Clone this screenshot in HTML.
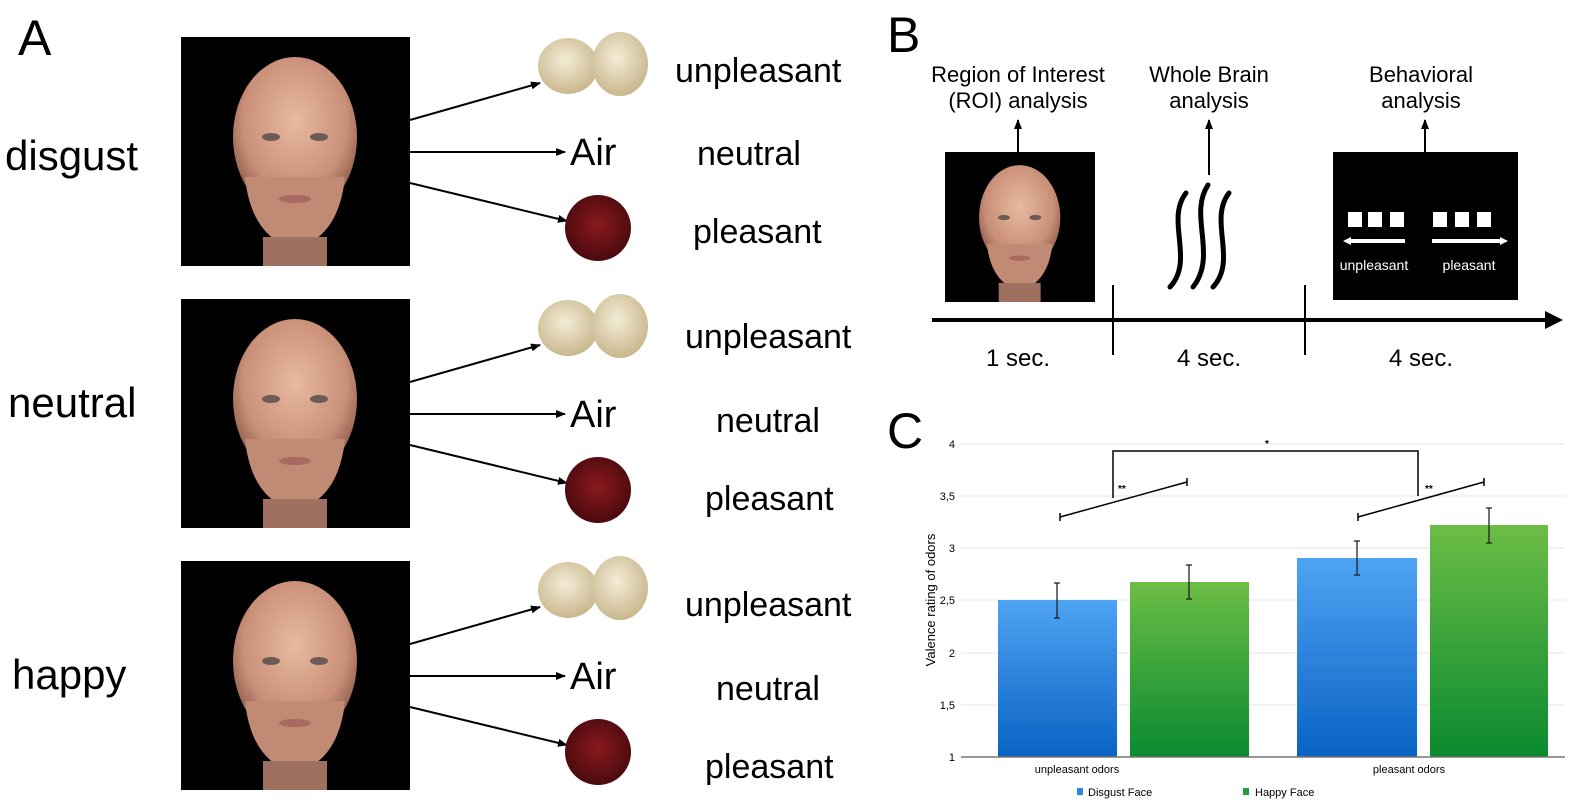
<!DOCTYPE html>
<html><head><meta charset="utf-8"><style>
html,body{margin:0;padding:0;background:#fff;}
svg{display:block;font-family:"Liberation Sans",Arial,sans-serif;}
</style></head><body>
<svg width="1575" height="807" viewBox="0 0 1575 807" xmlns="http://www.w3.org/2000/svg">
<defs>
<marker id="ah" markerWidth="10" markerHeight="8" refX="9" refY="4" orient="auto" markerUnits="userSpaceOnUse"><path d="M0,0 L10,4 L0,8 z" fill="#000"/></marker>
<radialGradient id="skin" cx="50%" cy="40%" r="60%"><stop offset="0" stop-color="#e8b9a0"/><stop offset="0.7" stop-color="#c98f78"/><stop offset="1" stop-color="#8a5a48"/></radialGradient>
<radialGradient id="garlic" cx="45%" cy="40%" r="60%"><stop offset="0" stop-color="#f3ecd6"/><stop offset="1" stop-color="#c9b88e"/></radialGradient>
<radialGradient id="rose" cx="50%" cy="45%" r="55%"><stop offset="0" stop-color="#8a1a1e"/><stop offset="1" stop-color="#4a0a0e"/></radialGradient>
<linearGradient id="blue" x1="0" y1="0" x2="0" y2="1"><stop offset="0" stop-color="#4fa3f3"/><stop offset="1" stop-color="#0a63c4"/></linearGradient>
<linearGradient id="green" x1="0" y1="0" x2="0" y2="1"><stop offset="0" stop-color="#6cbd45"/><stop offset="1" stop-color="#0a8a30"/></linearGradient>
<g id="face">
<rect x="0" y="0" width="229" height="229" fill="#000"/>
<ellipse cx="114" cy="100" rx="62" ry="80" fill="url(#skin)"/>
<path d="M64,140 Q70,200 114,212 Q158,200 164,140 Z" fill="#c08a74"/>
<rect x="82" y="200" width="64" height="29" fill="#9e7060"/>
<ellipse cx="90" cy="100" rx="9" ry="4" fill="#6d5a55"/>
<ellipse cx="138" cy="100" rx="9" ry="4" fill="#6d5a55"/>
<ellipse cx="114" cy="162" rx="16" ry="4" fill="#a86a60"/>
</g>
</defs>

<text x="18" y="55" font-size="50">A</text>
<use href="#face" x="181" y="37"/>
<g>
<path d="M410,120 L540,83" stroke="#000" stroke-width="2" marker-end="url(#ah)"/>
<path d="M410,152 L565,152" stroke="#000" stroke-width="2" marker-end="url(#ah)"/>
<path d="M410,183 L567,221" stroke="#000" stroke-width="2" marker-end="url(#ah)"/>
<ellipse cx="568" cy="66" rx="30" ry="28" fill="url(#garlic)"/>
<ellipse cx="620" cy="64" rx="28" ry="32" fill="url(#garlic)"/>
<text x="570" y="165" font-size="38">Air</text>
<ellipse cx="598" cy="228" rx="33" ry="33" fill="url(#rose)"/>
<text x="675" y="82" font-size="34">unpleasant</text>
<text x="697" y="165" font-size="34">neutral</text>
<text x="693" y="243" font-size="34">pleasant</text>
<text x="5" y="170" font-size="42">disgust</text>
</g>
<use href="#face" x="181" y="299"/>
<g transform="translate(0,262)">
<path d="M410,120 L540,83" stroke="#000" stroke-width="2" marker-end="url(#ah)"/>
<path d="M410,152 L565,152" stroke="#000" stroke-width="2" marker-end="url(#ah)"/>
<path d="M410,183 L567,221" stroke="#000" stroke-width="2" marker-end="url(#ah)"/>
<ellipse cx="568" cy="66" rx="30" ry="28" fill="url(#garlic)"/>
<ellipse cx="620" cy="64" rx="28" ry="32" fill="url(#garlic)"/>
<text x="570" y="165" font-size="38">Air</text>
<ellipse cx="598" cy="228" rx="33" ry="33" fill="url(#rose)"/>
<text x="685" y="86" font-size="34">unpleasant</text>
<text x="716" y="170" font-size="34">neutral</text>
<text x="705" y="248" font-size="34">pleasant</text>
<text x="8" y="155" font-size="42">neutral</text>
</g>
<use href="#face" x="181" y="561"/>
<g transform="translate(0,524)">
<path d="M410,120 L540,83" stroke="#000" stroke-width="2" marker-end="url(#ah)"/>
<path d="M410,152 L565,152" stroke="#000" stroke-width="2" marker-end="url(#ah)"/>
<path d="M410,183 L567,221" stroke="#000" stroke-width="2" marker-end="url(#ah)"/>
<ellipse cx="568" cy="66" rx="30" ry="28" fill="url(#garlic)"/>
<ellipse cx="620" cy="64" rx="28" ry="32" fill="url(#garlic)"/>
<text x="570" y="165" font-size="38">Air</text>
<ellipse cx="598" cy="228" rx="33" ry="33" fill="url(#rose)"/>
<text x="685" y="92" font-size="34">unpleasant</text>
<text x="716" y="176" font-size="34">neutral</text>
<text x="705" y="254" font-size="34">pleasant</text>
<text x="12" y="165" font-size="42">happy</text>
</g>

<!-- Panel B -->
<text x="887" y="52" font-size="50">B</text>
<g font-size="22" text-anchor="middle">
<text x="1018" y="82">Region of Interest</text>
<text x="1018" y="108">(ROI) analysis</text>
<text x="1209" y="82">Whole Brain</text>
<text x="1209" y="108">analysis</text>
<text x="1421" y="82">Behavioral</text>
<text x="1421" y="108">analysis</text>
<text x="1018" y="366" font-size="24">1 sec.</text>
<text x="1209" y="366" font-size="24">4 sec.</text>
<text x="1421" y="366" font-size="24">4 sec.</text>
</g>
<path d="M1018,152 L1018,120" stroke="#000" stroke-width="2" marker-end="url(#ah)"/>
<path d="M1209,175 L1209,120" stroke="#000" stroke-width="2" marker-end="url(#ah)"/>
<path d="M1425,152 L1425,120" stroke="#000" stroke-width="2" marker-end="url(#ah)"/>
<g transform="translate(945,152) scale(0.655)"><use href="#face"/></g>
<rect x="1333" y="152" width="185" height="148" fill="#000"/>
<g fill="#fff">
<rect x="1348" y="212" width="14" height="15"/><rect x="1368" y="212" width="14" height="15"/><rect x="1390" y="212" width="14" height="15"/>
<rect x="1433" y="212" width="14" height="15"/><rect x="1455" y="212" width="14" height="15"/><rect x="1477" y="212" width="14" height="15"/>
<path d="M1343,241 L1351,237 L1351,239 L1405,239 L1405,243 L1351,243 L1351,245 Z"/>
<path d="M1508,241 L1500,237 L1500,239 L1432,239 L1432,243 L1500,243 L1500,245 Z"/>
<text x="1374" y="270" font-size="14" text-anchor="middle">unpleasant</text>
<text x="1469" y="270" font-size="14" text-anchor="middle">pleasant</text>
</g>
<g stroke="#000" stroke-width="5" fill="none" stroke-linecap="round">
<path d="M1186,193 C1165,220 1195,260 1170,287"/>
<path d="M1208,185 C1188,215 1218,255 1193,287"/>
<path d="M1229,193 C1208,220 1238,260 1213,287"/>
</g>
<line x1="932" y1="320" x2="1548" y2="320" stroke="#000" stroke-width="4"/>
<path d="M1545,311 L1563,320 L1545,329 Z" fill="#000"/>
<line x1="1113" y1="285" x2="1113" y2="355" stroke="#000" stroke-width="2"/>
<line x1="1305" y1="285" x2="1305" y2="355" stroke="#000" stroke-width="2"/>

<!-- Panel C -->
<text x="887" y="448" font-size="50">C</text>
<g stroke="#e6e6e6" stroke-width="1">
<line x1="961" y1="444" x2="1565" y2="444"/><line x1="961" y1="496" x2="1565" y2="496"/>
<line x1="961" y1="548" x2="1565" y2="548"/><line x1="961" y1="600" x2="1565" y2="600"/>
<line x1="961" y1="653" x2="1565" y2="653"/><line x1="961" y1="705" x2="1565" y2="705"/>
</g>
<g font-size="11" text-anchor="end">
<text x="955" y="448">4</text><text x="955" y="500">3,5</text><text x="955" y="552">3</text>
<text x="955" y="604">2,5</text><text x="955" y="657">2</text><text x="955" y="709">1,5</text><text x="955" y="761">1</text>
</g>
<text transform="translate(935,600) rotate(-90)" font-size="13" text-anchor="middle">Valence rating of odors</text>
<rect x="998" y="600" width="119" height="157" fill="url(#blue)"/>
<rect x="1130" y="582" width="119" height="175" fill="url(#green)"/>
<rect x="1297" y="558" width="120" height="199" fill="url(#blue)"/>
<rect x="1430" y="525" width="118" height="232" fill="url(#green)"/>
<line x1="961" y1="757" x2="1565" y2="757" stroke="#777" stroke-width="1.5"/>
<g stroke="#222" stroke-width="1.3">
<line x1="1057" y1="583" x2="1057" y2="618"/><line x1="1054" y1="583" x2="1060" y2="583"/><line x1="1054" y1="618" x2="1060" y2="618"/>
<line x1="1189" y1="565" x2="1189" y2="599"/><line x1="1186" y1="565" x2="1192" y2="565"/><line x1="1186" y1="599" x2="1192" y2="599"/>
<line x1="1357" y1="541" x2="1357" y2="575"/><line x1="1354" y1="541" x2="1360" y2="541"/><line x1="1354" y1="575" x2="1360" y2="575"/>
<line x1="1489" y1="508" x2="1489" y2="543"/><line x1="1486" y1="508" x2="1492" y2="508"/><line x1="1486" y1="543" x2="1492" y2="543"/>
</g>
<g stroke="#000" stroke-width="1.5" fill="none">
<path d="M1060,517 L1187,482"/><path d="M1187,478 L1187,486"/><path d="M1060,513 L1060,521"/>
<path d="M1358,517 L1484,482"/><path d="M1484,478 L1484,486"/><path d="M1358,513 L1358,521"/>
<path d="M1113,498 L1113,451 L1418,451 L1418,496"/>
</g>
<g font-size="10" font-weight="bold">
<text x="1118" y="492">**</text><text x="1425" y="492">**</text><text x="1265" y="447">*</text>
</g>
<g font-size="11" text-anchor="middle">
<text x="1077" y="773">unpleasant odors</text>
<text x="1409" y="773">pleasant odors</text>
</g>
<rect x="1077" y="788" width="6" height="7" fill="#2a86e0"/>
<text x="1088" y="796" font-size="11">Disgust Face</text>
<rect x="1243" y="788" width="6" height="7" fill="#2a9a3a"/>
<text x="1255" y="796" font-size="11">Happy Face</text>
</svg>
</body></html>
